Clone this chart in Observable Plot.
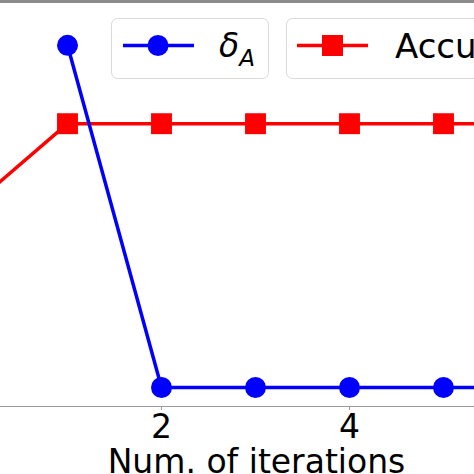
<!DOCTYPE html>
<html>
<head>
<meta charset="utf-8">
<script src="https://cdn.jsdelivr.net/npm/d3@7"></script>
<script src="https://cdn.jsdelivr.net/npm/@observablehq/plot@0.6"></script>
<style>
  html, body { margin: 0; padding: 0; background: white; overflow: hidden; }
  #chart { width: 474px; height: 474px; overflow: hidden; }
</style>
</head>
<body>
<div id="chart"></div>
<script>
// Data (normalised units on a shared y axis)
const iterations = [0, 1, 2, 3, 4, 5, 6];
const deltaA     = [null, 0.894, 0.047, 0.047, 0.047, 0.047, 0.047];
const accuracy   = [0.50, 0.700, 0.700, 0.700, 0.700, 0.700, 0.700];
const xTicks     = [2, 4];
const xLabel     = "Num. of iterations";
const legendLabels = ["δ", "Accuracy"];

const blue = "#0000ff", red = "#ff0000";
const deltaData = iterations.map((it, i) => ({it, v: deltaA[i]})).filter(d => d.v != null);
const accData = iterations.map((it, i) => ({it, v: accuracy[i]}));

const plot = Plot.plot({
  width: 474,
  height: 474,
  marginTop: 0,
  marginBottom: 68,
  marginLeft: 0,
  marginRight: 0,
  style: {fontFamily: "DejaVu Sans", background: "white", overflow: "hidden"},
  x: {domain: [0, 5], range: [-27, 443]},
  y: {domain: [0, 1], range: [406, 2], axis: null},
  marks: [
    Plot.frame({anchor: "top", stroke: "#8c8c8c", strokeWidth: 5}),
    Plot.frame({anchor: "bottom", stroke: "#999", strokeWidth: 1.2}),
    Plot.axisX({ticks: xTicks, tickFormat: d3.format("d"), tickSize: 4, tickPadding: 4, fontSize: 33, stroke: "#999", label: null, fill: "black"}),
    Plot.text([xLabel], {frameAnchor: "bottom", dx: 19, dy: 66, lineAnchor: "bottom", fontSize: 33, fill: "black"}),
    Plot.line(accData, {x: "it", y: "v", stroke: red, strokeWidth: 3.5}),
    Plot.dot(accData, {x: "it", y: "v", symbol: "square", r: 11.8, fill: red, stroke: "none"}),
    Plot.line(deltaData, {x: "it", y: "v", stroke: blue, strokeWidth: 3.5}),
    Plot.dot(deltaData, {x: "it", y: "v", r: 10.5, fill: blue, stroke: "none"})
  ]
});

// Legend (matplotlib-style framed boxes)
const svg = d3.select(plot);
const lg = svg.append("g").attr("font-family", "DejaVu Sans").attr("text-anchor", "start");
// box 1
lg.append("rect").attr("x", 111.5).attr("y", 18.5).attr("width", 157).attr("height", 60).attr("rx", 6)
  .attr("fill", "white").attr("fill-opacity", 0.85).attr("stroke", "#d9d9d9");
lg.append("line").attr("x1", 123).attr("x2", 194).attr("y1", 45.5).attr("y2", 45.5).attr("stroke", blue).attr("stroke-width", 3.5);
lg.append("circle").attr("cx", 158).attr("cy", 45.5).attr("r", 10.5).attr("fill", blue);
const t1 = lg.append("text").attr("x", 219).attr("y", 57).attr("font-size", 33).attr("fill", "black");
t1.append("tspan").attr("font-style", "italic").text(legendLabels[0]);
t1.append("tspan").attr("font-style", "italic").attr("font-size", 23).attr("dy", 9).text("A");
// box 2
lg.append("rect").attr("x", 286.5).attr("y", 18.5).attr("width", 260).attr("height", 60).attr("rx", 6)
  .attr("fill", "white").attr("fill-opacity", 0.85).attr("stroke", "#d9d9d9");
lg.append("line").attr("x1", 297).attr("x2", 368).attr("y1", 45.5).attr("y2", 45.5).attr("stroke", red).attr("stroke-width", 3.5);
lg.append("rect").attr("x", 322).attr("y", 35).attr("width", 21).attr("height", 21).attr("fill", red);
lg.append("text").attr("x", 395).attr("y", 58).attr("font-size", 34).attr("fill", "black").text(legendLabels[1]);

document.getElementById("chart").append(plot);
</script>
</body>
</html>
